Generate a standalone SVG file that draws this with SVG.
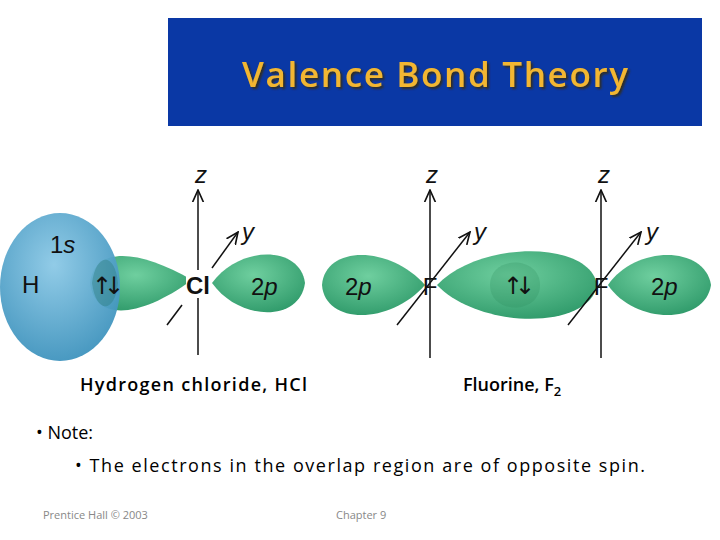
<svg xmlns="http://www.w3.org/2000/svg" width="720" height="540" viewBox="0 0 720 540">
<defs>
<radialGradient id="g" cx="0.45" cy="0.35" r="0.7"><stop offset="0" stop-color="#6fcf9f"/><stop offset="1" stop-color="#2f9a6a"/></radialGradient>
<radialGradient id="b" cx="0.45" cy="0.35" r="0.7"><stop offset="0" stop-color="#8cc9e6"/><stop offset="1" stop-color="#3a90bb"/></radialGradient>
<marker id="ah" viewBox="0 0 10 10" refX="9" refY="5" markerWidth="9" markerHeight="9" orient="auto"><path d="M0,1 L9,5 L0,9" fill="none" stroke="#111" stroke-width="1.2"/></marker>
<filter id="sh" x="-5%" y="-20%" width="110%" height="140%"><feDropShadow dx="2" dy="2" stdDeviation="0.8" flood-color="#3a2a00" flood-opacity="0.8"/></filter>
</defs>
<style>
.ax{stroke:#111;stroke-width:1.5;fill:none}
.lb{font-family:"Liberation Sans",Arial,sans-serif;font-size:24px;fill:#111}
.ar{font-family:"DejaVu Sans",sans-serif;font-size:24px;fill:#111}
.it{font-style:italic}
.cap{font-family:"Open Sans","Liberation Sans",sans-serif;font-size:18px;fill:#000}
</style>
<rect width="720" height="540" fill="#fff"/>
<rect x="168" y="18" width="534" height="108" fill="#0a38a5"/>
<text x="435" y="87" text-anchor="middle" font-family="Open Sans,Liberation Sans,sans-serif" font-size="35" font-weight="600" fill="#f2b630" filter="url(#sh)" textLength="386">Valence Bond Theory</text>
<g id="orbitals">
<path d="M90,283 C95,245 140,250 192,280 C140,318 95,322 90,283 Z" fill="url(#g)"/>
<ellipse cx="60" cy="287" rx="60" ry="74" fill="url(#b)" opacity="0.95"/>
<path d="M92,283 C96,252 115,252 118,283 C115,314 96,314 92,283Z" fill="#2c7a7a" opacity="0.4"/>
<path d="M212,283 C240,245 300,245 305,283 C300,322 240,322 212,283Z" fill="url(#g)"/>
<path d="M425,285 C390,245 325,245 322,285 C325,325 390,325 425,285Z" fill="url(#g)"/>
<path d="M437,285 C480,240 590,240 597,285 C590,330 480,330 437,285Z" fill="url(#g)"/>
<path d="M490,285 C490,255 540,255 540,285 C540,315 490,315 490,285Z" fill="#2a8a5a" opacity="0.25"/>
<path d="M608,285 C635,245 705,245 711,285 C705,325 635,325 608,285Z" fill="url(#g)"/>
</g>
<g id="axes">
<line class="ax" x1="198" y1="355" x2="198" y2="190" marker-end="url(#ah)"/>
<line class="ax" x1="430" y1="358" x2="430" y2="190" marker-end="url(#ah)"/>
<line class="ax" x1="601" y1="358" x2="601" y2="190" marker-end="url(#ah)"/>
<line class="ax" x1="212" y1="268" x2="238" y2="232" marker-end="url(#ah)"/>
<line class="ax" x1="167" y1="325" x2="182" y2="305"/>
<line class="ax" x1="397" y1="325" x2="470" y2="232" marker-end="url(#ah)"/>
<line class="ax" x1="568" y1="325" x2="641" y2="232" marker-end="url(#ah)"/>
</g>
<g id="labels">
<text class="lb it" x="201" y="183" text-anchor="middle">z</text>
<text class="lb it" x="432" y="183" text-anchor="middle">z</text>
<text class="lb it" x="604" y="183" text-anchor="middle">z</text>
<text class="lb it" x="242" y="240">y</text>
<text class="lb it" x="474" y="240">y</text>
<text class="lb it" x="646" y="240">y</text>
<text class="lb" x="50" y="253">1<tspan class="it">s</tspan></text>
<text class="lb" x="22" y="293">H</text>
<text class="ar" x="92" y="294" textLength="32">↑↓</text>
<rect x="186" y="270" width="24" height="28" fill="#fff"/>
<text class="lb" x="198" y="294" text-anchor="middle" font-weight="bold">Cl</text>
<text class="lb" x="251" y="295">2<tspan class="it">p</tspan></text>
<text class="lb" x="345" y="295">2<tspan class="it">p</tspan></text>
<text class="lb" x="430" y="295" text-anchor="middle">F</text>
<text class="ar" x="503" y="294" textLength="32">↑↓</text>
<text class="lb" x="601" y="295" text-anchor="middle">F</text>
<text class="lb" x="651" y="295">2<tspan class="it">p</tspan></text>
</g>
<text class="cap" x="80" y="391" font-size="19" font-weight="600" textLength="227">Hydrogen chloride, HCl</text>
<text class="cap" x="463" y="391" font-size="19" font-weight="600">Fluorine, F<tspan font-size="13" dy="5">2</tspan></text>
<text class="cap" x="36" y="439" font-size="20">•  Note:</text>
<text class="cap" x="75" y="472" font-size="22" textLength="570">•  The electrons in the overlap region are of opposite spin.</text>
<text x="43" y="519" font-family="Open Sans,Liberation Sans,sans-serif" font-size="11" fill="#888">Prentice Hall © 2003</text>
<text x="336" y="519" font-family="Open Sans,Liberation Sans,sans-serif" font-size="11" fill="#888">Chapter 9</text>
</svg>
